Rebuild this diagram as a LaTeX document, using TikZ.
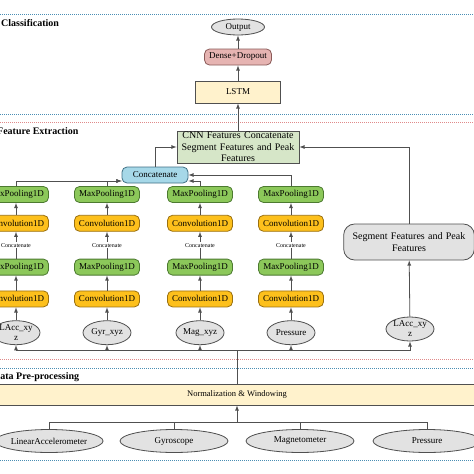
\documentclass[tikz,border=0pt]{standalone}
\usepackage{fontspec}
\setmainfont{Liberation Serif}
\usetikzlibrary{calc}
\usetikzlibrary{positioning}
\usetikzlibrary{shapes.geometric}
\usetikzlibrary{arrows}
\definecolor{mpgreen}{HTML}{8CC85A}
\definecolor{mpedge}{HTML}{4C7A30}
\definecolor{convorange}{HTML}{FDC01C}
\definecolor{convedge}{HTML}{9A7010}
\definecolor{concblue}{HTML}{A6D8E8}
\definecolor{concedge}{HTML}{3F6F84}
\definecolor{cnngreen}{HTML}{D6E6C8}
\definecolor{paleyellow}{HTML}{FFF2CC}
\definecolor{denserose}{HTML}{E6B4B2}
\definecolor{denseedge}{HTML}{8A5A58}
\definecolor{ellgray}{HTML}{E2E2E2}
\definecolor{linegray}{HTML}{505050}
\definecolor{sepblue}{HTML}{4A8EB4}
\definecolor{sepred}{HTML}{E08A8A}
\tikzset{
	>=latex,
	layerbox/.style={
		rectangle,
		rounded corners=5pt,
		draw=linegray, thick,
		minimum width=65pt,
		minimum height=16pt,
		inner sep=1pt,
		font=\fontsize{9}{10}\selectfont},
	poolbox/.style={layerbox, fill=mpgreen, draw=mpedge},
	convbox/.style={layerbox, fill=convorange, draw=convedge},
	inell/.style={
		ellipse,
		fill=ellgray,
		draw=linegray, thick,
		minimum width=48pt,
		minimum height=24pt,
		inner sep=0pt,
		align=center,
		font=\fontsize{9}{10}\selectfont},
	sensorell/.style={inell, minimum width=108pt, minimum height=23pt},
	conn/.style={draw=linegray, thick, ->},
	plain/.style={draw=linegray, thick},
	sepline/.style={line width=0.9pt, dash pattern=on 1pt off 1pt},
	sectitle/.style={anchor=west, inner sep=0pt, font=\fontsize{10}{12}\selectfont\bfseries},
	catlabel/.style={midway, fill=white, inner sep=1pt, font=\fontsize{6}{7}\selectfont},
}
\begin{document}
\begin{tikzpicture}
	[x=1pt, y=-1pt,
	node distance=12pt,]

	\clip (0,0) rectangle (474,474);

	% section separators and titles
	\draw[sepline, sepblue] (0,14) -- (474,14);
	\draw[sepline, sepblue] (0,114) -- (474,114);
	\draw[sepline, sepred] (0,122) -- (474,122);
	\draw[sepline, sepred] (0,359) -- (474,359);
	\draw[sepline, sepblue] (0,368) -- (474,368);
	\draw[sepline, sepblue] (0,460) -- (474,460);
	\node[sectitle] (tclass) at (1,23) {Classification};
	\node[sectitle] (tfeat) at (-3,131) {Feature Extraction};
	\node[sectitle] (tprep) at (-7,377) {Data Pre-processing};

	% classification
	\node[ellipse, fill=ellgray, draw=linegray, thick, minimum width=53pt, minimum height=16pt,
		inner sep=0pt, font=\fontsize{9}{10}\selectfont] (output) at (238,27) {Output};
	\node[layerbox, fill=denserose, draw=denseedge, minimum width=67pt] (dense) at (238,57) {Dense+Dropout};
	\node[rectangle, fill=paleyellow, draw=linegray, thick, minimum width=85pt, minimum height=22pt,
		font=\fontsize{9}{10}\selectfont] (lstm) at (238,92) {LSTM};

	% feature extraction
	\node[rectangle, fill=cnngreen, draw=linegray, thick, minimum width=122pt, minimum height=32pt,
		text width=120pt, inner sep=0pt, align=center, font=\fontsize{10}{11.5}\selectfont]
		(cnnfeat) at (238,147) {CNN Features Concatenate\\Segment Features and Peak\\Features};
	\node[layerbox, fill=concblue, draw=concedge, minimum width=66pt] (concat) at (155,175) {Concatenate};

	\node[poolbox] (mp1a) at (16,194.5) {MaxPooling1D};
	\node[convbox, below=of mp1a] (cv1a) {Convolution1D};
	\node[poolbox, below=27pt of cv1a] (mp1b) {MaxPooling1D};
	\node[convbox, below=15pt of mp1b] (cv1b) {Convolution1D};
	\node[inell, below=13pt of cv1b] (in1) {LAcc\_xy\\z};

	\node[poolbox] (mp2a) at (107,194.5) {MaxPooling1D};
	\node[convbox, below=of mp2a] (cv2a) {Convolution1D};
	\node[poolbox, below=27pt of cv2a] (mp2b) {MaxPooling1D};
	\node[convbox, below=15pt of mp2b] (cv2b) {Convolution1D};
	\node[inell, below=13pt of cv2b] (in2) {Gyr\_xyz};

	\node[poolbox] (mp3a) at (200,194.5) {MaxPooling1D};
	\node[convbox, below=of mp3a] (cv3a) {Convolution1D};
	\node[poolbox, below=27pt of cv3a] (mp3b) {MaxPooling1D};
	\node[convbox, below=15pt of mp3b] (cv3b) {Convolution1D};
	\node[inell, below=13pt of cv3b] (in3) {Mag\_xyz};

	\node[poolbox] (mp4a) at (291,194.5) {MaxPooling1D};
	\node[convbox, below=of mp4a] (cv4a) {Convolution1D};
	\node[poolbox, below=27pt of cv4a] (mp4b) {MaxPooling1D};
	\node[convbox, below=15pt of mp4b] (cv4b) {Convolution1D};
	\node[inell, below=13pt of cv4b] (in4) {Pressure};

	\node[rectangle, rounded corners=11pt, fill=ellgray, draw=linegray, thick, minimum width=130pt,
		minimum height=36pt, text width=124pt, align=center, font=\fontsize{10}{12}\selectfont]
		(segfeat) at (409,242) {Segment Features and Peak\\Features};
	\node[inell] (in5) at (410,329) {LAcc\_xy\\z};

	% data pre-processing
	\node[rectangle, fill=paleyellow, draw=linegray, thick, minimum width=480pt, minimum height=21pt,
		font=\fontsize{8.5}{10}\selectfont] (norm) at (237,394.5) {Normalization \& Windowing};
	\node[sensorell] (linacc) at (49,441) {LinearAccelerometer};
	\node[sensorell] (gyro) at (174,441) {Gyroscope};
	\node[sensorell] (magn) at (300,441) {Magnetometer};
	\node[sensorell] (press) at (427,441) {Pressure};

	% connectors, from the sensors upwards
	\coordinate (fanout) at ([yshift=-17pt]norm.south);
	\draw[plain] (linacc.north) |- (fanout);
	\draw[plain] (gyro.north) |- (fanout);
	\draw[plain] (magn.north) |- (fanout);
	\draw[plain] (press.north) |- (fanout);
	\draw[conn] (fanout) -- (norm.south);

	\coordinate (fanin) at ([yshift=33pt]norm.north);
	\draw[plain] (norm.north) -- (fanin);
	\draw[conn] (fanin) -| (in1.south);
	\draw[conn] (fanin) -| (in2.south);
	\draw[conn] (fanin) -| (in3.south);
	\draw[conn] (fanin) -| (in4.south);
	\draw[conn] (fanin) -| (in5.south);

	\draw[conn] (in1) -- (cv1b);
	\draw[conn] (cv1b) -- (mp1b);
	\draw[conn] (mp1b) -- node[catlabel] {Concatenate} (cv1a);
	\draw[conn] (cv1a) -- (mp1a);
	\draw[conn] (in2) -- (cv2b);
	\draw[conn] (cv2b) -- (mp2b);
	\draw[conn] (mp2b) -- node[catlabel] {Concatenate} (cv2a);
	\draw[conn] (cv2a) -- (mp2a);
	\draw[conn] (in3) -- (cv3b);
	\draw[conn] (cv3b) -- (mp3b);
	\draw[conn] (mp3b) -- node[catlabel] {Concatenate} (cv3a);
	\draw[conn] (cv3a) -- (mp3a);
	\draw[conn] (in4) -- (cv4b);
	\draw[conn] (cv4b) -- (mp4b);
	\draw[conn] (mp4b) -- node[catlabel] {Concatenate} (cv4a);
	\draw[conn] (cv4a) -- (mp4a);
	\draw[conn] (in5) -- (segfeat);

	% pooled maps into the concatenation
	\draw[conn] (mp1a.north) |- ([yshift=-6pt]concat.west);
	\draw[conn] (mp2a.north) |- ([yshift=-6pt]concat.west);
	\draw[conn] (mp3a.north) |- ([yshift=-6pt]concat.east);
	\draw[conn] (mp4a.north) |- (concat.east);

	\draw[conn] (concat.north) |- (cnnfeat.west);
	\draw[conn] (segfeat.north) |- (cnnfeat.east);
	\draw[conn] (cnnfeat) -- (lstm);
	\draw[conn] (lstm) -- (dense);
	\draw[conn] (dense) -- (output);
\end{tikzpicture}
\end{document}
